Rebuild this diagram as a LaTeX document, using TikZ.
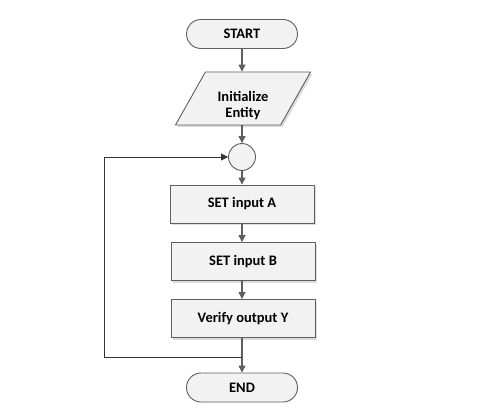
\documentclass[tikz,border=0pt]{standalone}
\usepackage{fontspec}
\setmainfont{Carlito}
\usetikzlibrary{arrows.meta,shapes.geometric,shadows}
\definecolor{flowline}{HTML}{5F5F5F}
\definecolor{flowfill}{HTML}{F2F2F2}

\begin{document}
\begin{tikzpicture}[x=1pt,y=-1pt]
    \tikzstyle{boxbase} = [draw=flowline,line width=0.9pt,fill=flowfill,font=\bfseries\fontsize{14.5}{16}\selectfont,align=center,inner sep=0pt]
    \tikzstyle{terminal} = [boxbase,rectangle,rounded corners=14.5pt,minimum width=111pt,minimum height=29pt]
    \tikzstyle{process} = [boxbase,rectangle,minimum width=144pt,minimum height=38pt,drop shadow={shadow xshift=2pt,shadow yshift=-2pt,fill=gray!55}]
    \tikzstyle{inout} = [boxbase,trapezium,trapezium left angle=65,trapezium right angle=115,trapezium stretches=true,minimum width=136pt,minimum height=53pt,drop shadow={shadow xshift=2pt,shadow yshift=-2pt,fill=gray!55}]
    \tikzstyle{junction} = [boxbase,circle,minimum size=27pt]
    \tikzstyle{flow} = [draw=flowline,line width=1.2pt,-{Triangle[length=7pt,width=7pt]}]
    \tikzstyle{loopback} = [draw=black!80,line width=0.7pt,-{Triangle[length=7pt,width=7pt]}]

    \useasboundingbox (0,0) rectangle (501,418);

    \node[terminal] (start)  at (242,34)    {START};
    \node[inout]    (init)   at (243,98.5)  {\rule{0pt}{25pt}Initialize\\Entity};
    \node[junction] (join)   at (242,157)   {};
    \node[process]  (seta)   at (242,204)   {SET input A};
    \node[process]  (setb)   at (243,261.5) {SET input B};
    \node[process]  (verify) at (243,318.5) {Verify output Y};
    \node[terminal] (finish) at (242,387.5) {END};

    \coordinate (split) at (242,357);
    \coordinate (corner) at (104,357);

    % main flow
    \draw[flow] (start) -- (start.south |- init.north);
    \draw[flow] (start.south |- init.south) -- (join);
    \draw[flow] (join) -- (join.south |- seta.north);
    \draw[flow] (join.south |- seta.south) -- (join.south |- setb.north);
    \draw[flow] (join.south |- setb.south) -- (join.south |- verify.north);
    \draw[flow] (join.south |- verify.south) -- (finish);

    % loop back
    \draw[loopback] (split) -- (corner) |- (join);
\end{tikzpicture}
\end{document}
